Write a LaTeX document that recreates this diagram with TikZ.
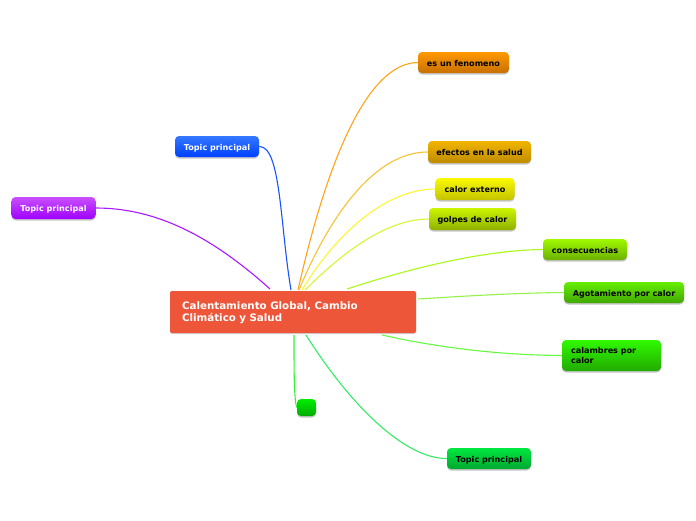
\documentclass[tikz,border=0pt]{standalone}
\usepackage{fontspec}
\setmainfont{DejaVu Sans}
\usetikzlibrary{shadows}

\definecolor{rootred}{HTML}{EE563A}
\definecolor{orangeT}{HTML}{FF9900}
\definecolor{orangeB}{HTML}{C87000}
\definecolor{amberT}{HTML}{F2B400}
\definecolor{amberB}{HTML}{BE8C00}
\definecolor{yellowT}{HTML}{FAFA00}
\definecolor{yellowB}{HTML}{C4C400}
\definecolor{limeT}{HTML}{CCF500}
\definecolor{limeB}{HTML}{8FB000}
\definecolor{leafT}{HTML}{A0FA00}
\definecolor{leafB}{HTML}{6CB000}
\definecolor{grassT}{HTML}{66EE00}
\definecolor{grassB}{HTML}{40A800}
\definecolor{brightT}{HTML}{30FA00}
\definecolor{brightB}{HTML}{22AA00}
\definecolor{pureT}{HTML}{00EE00}
\definecolor{pureB}{HTML}{00AA00}
\definecolor{mintT}{HTML}{00E840}
\definecolor{mintB}{HTML}{00A830}
\definecolor{blueT}{HTML}{3478FF}
\definecolor{blueB}{HTML}{0040FF}
\definecolor{violetT}{HTML}{C850FF}
\definecolor{violetB}{HTML}{A000FF}

\begin{document}
\begin{tikzpicture}[
		  x=1pt, y=-1pt,
		  % Define the style of the central topic
		  root/.style={rectangle, rounded corners=2pt, fill=rootred, text=white, font=\fontsize{10.3}{12}\selectfont\bfseries,
		    align=left, inner sep=0pt, minimum width=246pt, minimum height=42pt, text width=222pt, text depth=12pt,
		    drop shadow={shadow xshift=0pt, shadow yshift=-1pt, opacity=0.35}},
		  % Define the style of the subtopics
		  topic/.style={rectangle, rounded corners=4pt, font=\fontsize{8.1}{10}\selectfont\bfseries, inner sep=0pt,
		    drop shadow={shadow xshift=0pt, shadow yshift=-1.5pt, opacity=0.45}},
		  % Define the style of the one-line labels
		  oneline/.style={text height=7pt, text depth=0pt},
		  % Define the style of the connectors
		  branch/.style={line width=1.1pt}
		  ]

		  % Bounding box
		  \useasboundingbox (0,0) rectangle (696,520);

		  % Start points of the connectors, on the rim of the central topic
		  \foreach \name/\px/\py in {sOrange/298/290, sAmber/299/290, sYellow/302/290, sLime/305/290,
		    sLeaf/347/289, sGrass/418/299, sBright/382/335, sPure/294/335, sMint/306/335,
		    sBlue/291/290, sViolet/270/289} {
		    \coordinate (\name) at (\px,\py);
		  }

		  % Central topic
		  \node[root] (central) at (293,312) {Calentamiento Global, Cambio\\Climático y Salud};

		  % Subtopics
		  \foreach \name/\cx/\cy/\w/\h/\col/\txt in {
		    fenomeno/463.5/62.5/91/21/orange/es un fenomeno,
		    efectos/479.5/152/103/22/amber/efectos en la salud,
		    externo/475/189/79/22/yellow/calor externo,
		    golpes/472.5/219/87/22/lime/golpes de calor,
		    consecuencias/585/249.5/84/21/leaf/consecuencias,
		    agotamiento/624/292.5/120/21/grass/Agotamiento por calor,
		    mintTopic/489/458.5/84/21/mint/Topic principal} {
		    \node[topic, oneline, top color=\col T, bottom color=\col B, minimum width=\w pt, minimum height=\h pt] (\name) at (\cx,\cy) {\txt};
		  }
		  \node[topic, top color=brightT, bottom color=brightB, minimum width=99pt, minimum height=31pt, align=left, text width=81pt] (calambres) at (611.5,355.5) {calambres por\\calor};
		  \node[topic, top color=pureT, bottom color=pureB, minimum width=19pt, minimum height=17pt] (empty) at (306.5,407.5) {};
		  \node[topic, oneline, top color=blueT, bottom color=blueB, text=white, minimum width=84pt, minimum height=21pt] (blueTopic) at (217,146.5) {Topic principal};
		  \node[topic, oneline, top color=violetT, bottom color=violetB, text=white, minimum width=84pt, minimum height=22pt] (violetTopic) at (53.5,208) {Topic principal};

		  % Connect the nodes
		  \draw[branch, orangeT!90!white] (sOrange) .. controls (325,170) and (365,63) .. (fenomeno.west);
		  \draw[branch, amberT!80!white] (sAmber) .. controls (330,215) and (375,152) .. (efectos.west);
		  \draw[branch, yellow!80!white] (sYellow) .. controls (335,235) and (385,189) .. (externo.west);
		  \draw[branch, limeT!80!white] (sLime) .. controls (340,255) and (385,219) .. (golpes.west);
		  \draw[branch, leafT!90!white] (sLeaf) .. controls (420,265) and (490,250) .. (consecuencias.west);
		  \draw[branch, grassT!70!white] (sGrass) .. controls (465,296) and (515,293) .. (agotamiento.west);
		  \draw[branch, brightT!75!white] (sBright) .. controls (440,348) and (500,355) .. (calambres.west);
		  \draw[branch, pureT!80!white] (sPure) .. controls (294,370) and (294,400) .. (empty.west);
		  \draw[branch, mintT!80!white] (sMint) .. controls (350,405) and (405,459) .. (mintTopic.west);
		  \draw[branch, blueB!90!white] (sBlue) .. controls (280,225) and (281,146) .. (blueTopic.east);
		  \draw[branch, violetB!90!white] (sViolet) .. controls (210,235) and (155,208) .. (violetTopic.east);
    \end{tikzpicture}
\end{document}
